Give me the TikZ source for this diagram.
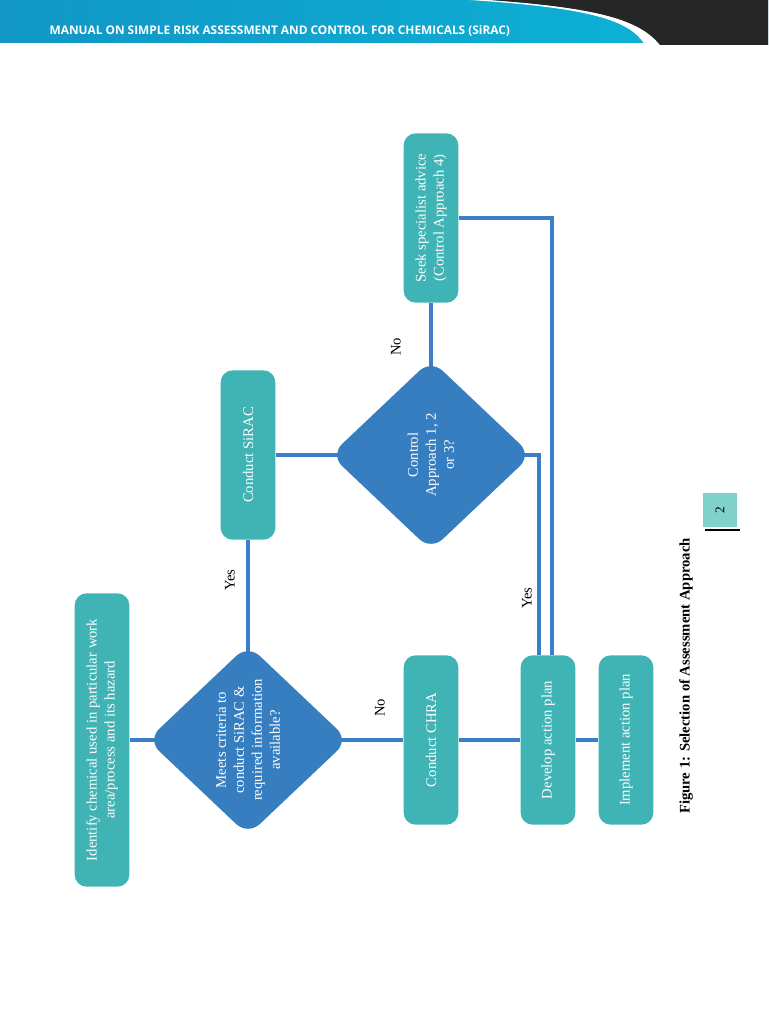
\documentclass[tikz,border=0pt]{standalone}
\usepackage{fontspec}
\setmainfont{Liberation Serif}
\setsansfont{Open Sans}
\usetikzlibrary{positioning}
\usetikzlibrary{shapes.geometric}
\usetikzlibrary{backgrounds}
\definecolor{boxteal}{HTML}{40B3B4}
\definecolor{diablue}{HTML}{367EC0}
\definecolor{lineblue}{HTML}{3B7EC6}
\definecolor{headblue}{HTML}{1196C6}
\definecolor{pagebox}{HTML}{7FD2C9}

\tikzset{
  stepbox/.style={rectangle, rounded corners=9pt, fill=boxteal, text=white,
    rotate=90, align=center, inner sep=2pt, minimum height=41pt,
    font=\fontsize{11}{13.5}\selectfont},
  choice/.style={diamond, rounded corners=12pt, fill=diablue, inner sep=0pt},
  choicetext/.style={rotate=90, text=white, align=center,
    font=\fontsize{11}{13.5}\selectfont},
  link/.style={draw=lineblue, line width=2.6pt},
  answer/.style={rotate=90, font=\fontsize{11}{12}\selectfont}
}

\begin{document}
\begin{tikzpicture}[x=0.75pt,y=-0.75pt]
      \useasboundingbox (0,0) rectangle (768,1024);

      % header band
      \shade[left color=headblue, right color=headblue!70!cyan] (0,0) rectangle (768,45);
      \fill[white] (0,43) rectangle (768,47);
      \fill[white] (470,0) .. controls (590,8) and (630,20) .. (645,45) -- (660,45) .. controls (640,20) and (600,8) .. (490,0) -- cycle;
      \fill[black!85] (490,0) .. controls (600,8) and (640,20) .. (660,45) -- (768,45) -- (768,0) -- cycle;
      \node[anchor=west, text=white, font=\sffamily\bfseries\fontsize{8.9}{11}\selectfont]
        (title) at (45,31) {MANUAL ON SIMPLE RISK ASSESSMENT AND CONTROL FOR CHEMICALS (SiRAC)};

      % boxes
      \node[stepbox, minimum width=220pt] (identify) at (102,740)
        {Identify chemical used in particular work\\ area/process and its hazard};
      \node[choice, minimum width=151pt, minimum height=143pt] (meets) at (248,740) {};
      \node[choicetext] (meetstext) at (meets) {Meets criteria to\\ conduct SiRAC \&\\ required information\\ available?};
      \node[stepbox, minimum width=127pt] (sirac) at (248,455) {Conduct SiRAC};
      \node[choice, minimum width=151pt, minimum height=143pt] (control) at (431,455) {};
      \node[choicetext] (controltext) at (control) {Control\\ Approach 1, 2\\ or 3?};
      \node[stepbox, minimum width=127pt] (seek) at (431,218)
        {Seek specialist advice\\ (Control Approach 4)};
      \node[stepbox, minimum width=127pt] (chra) at (431,740) {Conduct CHRA};
      \node[stepbox, minimum width=127pt] (develop) at (548,740) {Develop action plan};
      \node[stepbox, minimum width=127pt] (implement) at (626,740) {Implement action plan};

      % connectors
      \begin{scope}[on background layer]
        \draw[link] (identify.south) -- (meets.center);
        \draw[link] (meets.center) -- (sirac.west);
        \draw[link] (sirac.south) -- (control.center);
        \draw[link] (meets.center) -- (chra.north);
        \draw[link] (chra.south) -- (develop.north);
        \draw[link] (develop.south) -- (implement.north);
        \draw[link] (control.center) -- (seek.west);
        \draw[link] (control.center) -| ([xshift=-6.8pt]develop.east);
        \draw[link] (seek.south) -| ([xshift=3pt]develop.east);
      \end{scope}

      % answers
      \node[answer] (yes1) at (230,580) {Yes};
      \node[answer] (no1) at (380,708) {No};
      \node[answer] (no2) at (396,347) {No};
      \node[answer] (yes2) at (527,598) {Yes};

      % caption and page number
      \node[rotate=90, font=\bfseries\fontsize{11}{12}\selectfont] (caption) at (686,676)
        {Figure 1: Selection of Assessment Approach};
      \fill[pagebox] (703,493) rectangle (737,527);
      \node[rotate=90, font=\fontsize{10}{12}\selectfont] (pagenum) at (720,510) {2};
      \draw[black, line width=1.5pt] (705,530) -- (740,530);
\end{tikzpicture}
\end{document}
